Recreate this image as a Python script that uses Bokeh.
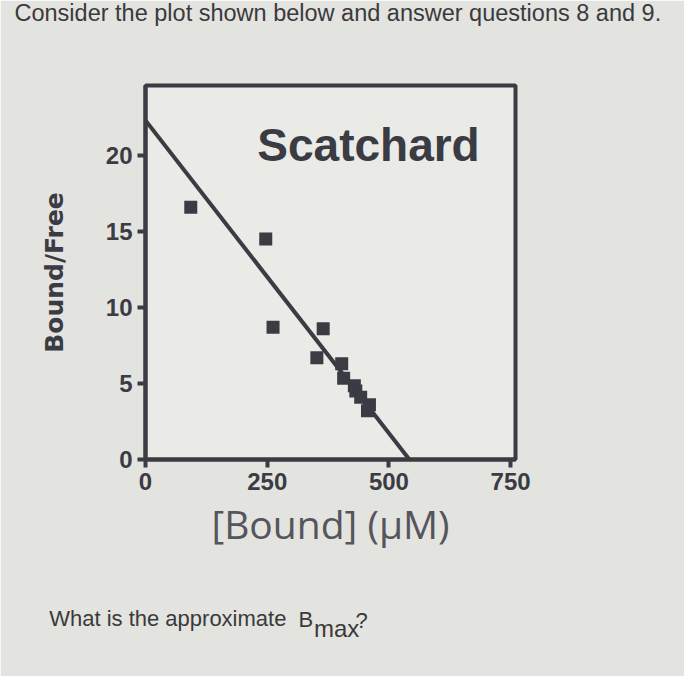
from bokeh.plotting import figure
from bokeh.models import Label, FixedTicker, Range1d
from bokeh.embed import file_html
from bokeh.resources import INLINE

# ---- data ----
bound = [93, 247, 262, 365, 352, 403, 407, 429, 432, 442, 460, 456]
bound_free = [16.6, 14.5, 8.7, 8.6, 6.7, 6.3, 5.35, 4.85, 4.5, 4.1, 3.6, 3.2]
fit_x = [0, 542]
fit_y = [22.3, 0]
x_ticks = [0, 250, 500, 750]
y_ticks = [0, 5, 10, 15, 20]

DARK = "#3b3b43"
BG = "#e3e3df"
PLOT_BG = "#eaeae7"
TXT = "#3a3a3c"

p = figure(width=684, height=676, output_backend="svg", toolbar_location=None,
           x_range=Range1d(0, 760), y_range=Range1d(0, 24.6),
           min_border_left=145, min_border_right=169,
           min_border_top=85, min_border_bottom=217)
p.background_fill_color = PLOT_BG
p.border_fill_color = BG
p.outline_line_color = DARK
p.outline_line_width = 4
p.outline_line_alpha = 1
p.grid.visible = False

for ax in (p.xaxis[0], p.yaxis[0]):
    ax.axis_line_color = DARK
    ax.axis_line_width = 4
    ax.major_tick_line_color = DARK
    ax.major_tick_line_width = 4
    ax.major_tick_out = 8
    ax.major_tick_in = 0
    ax.minor_tick_line_color = None
    ax.major_label_text_font = "Liberation Sans"
    ax.major_label_text_font_style = "bold"
    ax.major_label_text_font_size = "24px"
    ax.major_label_text_color = DARK
    ax.major_label_standoff = 5

p.xaxis.ticker = FixedTicker(ticks=x_ticks)
p.yaxis.ticker = FixedTicker(ticks=y_ticks)

p.xaxis.axis_label = "[Bound] (µM)"
p.xaxis.axis_label_text_font = "Open Sans"
p.xaxis.axis_label_text_font_style = "normal"
p.xaxis.axis_label_text_font_size = "39px"
p.xaxis.axis_label_text_color = "#55555c"
p.xaxis.axis_label_standoff = 4

p.yaxis.axis_label = "Bound/Free"
p.yaxis.axis_label_text_font = "DejaVu Sans"
p.yaxis.axis_label_text_font_style = "bold"
p.yaxis.axis_label_text_font_size = "25px"
p.yaxis.axis_label_text_color = DARK
p.yaxis.axis_label_standoff = 34

p.line(fit_x, fit_y, line_color=DARK, line_width=4)
p.scatter(bound, bound_free, marker="square", size=13, fill_color=DARK, line_color=None)

p.add_layout(Label(x=223, y=315, x_units="screen", y_units="screen", text="Scatchard",
                   text_font="Liberation Sans", text_font_style="bold", text_font_size="46px",
                   text_color=DARK, text_align="center", text_baseline="alphabetic"))


def lab(x, y, text, size, side):
    # labels live in the side panels (not clipped to the frame)
    p.add_layout(Label(x=x, y=y, x_units="screen", y_units="screen", text=text,
                       text_font="Liberation Sans", text_font_size=size, text_color=TXT,
                       text_align="left", text_baseline="alphabetic"), side)


lab(-131, 73, "Consider the plot shown below and answer questions 8 and 9.", "23.5px", "above")
lab(-96.3, -40.5, "What is the approximate", "22px", "below")
lab(153, -17, "B", "22px", "below")
lab(168.5, 1.5, "max", "24px", "below")
lab(210, 34.5, "?", "22px", "below")

open("out.html", "w").write(file_html(p, INLINE))
